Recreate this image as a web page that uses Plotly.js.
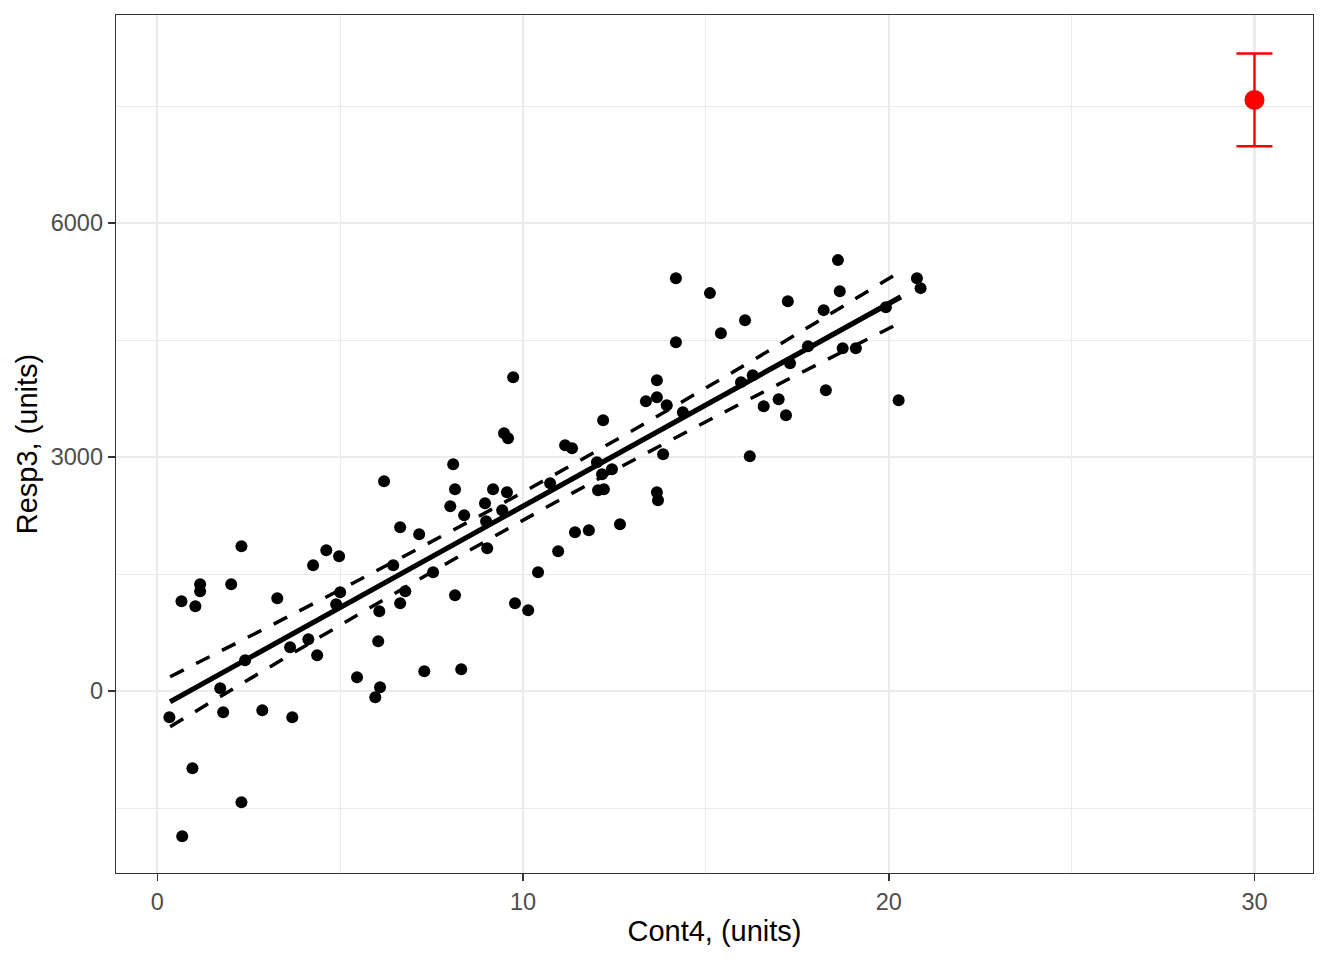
<!DOCTYPE html>
<html>
<head>
<meta charset="utf-8">
<script src="https://cdn.plot.ly/plotly-3.0.1.min.js"></script>
<style>
  body { margin: 0; background: #fff; }
  #chart { width: 1344px; height: 960px; }
</style>
</head>
<body>
<div id="chart"></div>
<script>
// scatter of Cont4 vs Resp3
var cont4 = [
  0.33, 0.66, 0.68, 0.96, 1.04, 1.17, 1.17, 1.72, 1.80, 2.02,
  2.30, 2.30, 2.40, 2.87, 3.28, 3.63, 3.69, 4.13, 4.26, 4.37,
  4.62, 4.89, 4.97, 5.00, 5.46, 5.96, 6.04, 6.07, 6.09, 6.20,
  6.45, 6.64, 6.64, 6.78, 7.16, 7.30, 7.54, 8.01, 8.09, 8.14,
  8.14, 8.31, 8.39, 8.96, 8.99, 9.02, 9.18, 9.43, 9.48, 9.56,
  9.59, 9.73, 9.78, 10.14, 10.41, 10.74, 10.96, 11.15, 11.34, 11.42,
  11.80, 12.02, 12.05, 12.16, 12.19, 12.21, 12.43, 12.65, 13.36, 13.66,
  13.66, 13.66, 13.69, 13.83, 13.93, 14.18, 14.18, 14.37, 15.11, 15.41,
  15.96, 16.07, 16.20, 16.28, 16.58, 16.99, 17.19, 17.24, 17.30, 17.79,
  18.22, 18.28, 18.61, 18.66, 18.74, 19.10, 19.92, 20.27, 20.77, 20.87
];
var resp3 = [
  -333, 1154, -1859, -987, 1090, 1372, 1282, 38, -269, 1372,
  1859, -1423, 397, -244, 1192, 564, -333, 667, 1615, 462,
  1808, 1115, 1731, 1269, 179, -77, 641, 1026, 51, 2692,
  1615, 2103, 1128, 1282, 2013, 256, 1526, 2372, 2910, 2590,
  1231, 282, 2256, 2410, 2179, 1833, 2590, 2320, 3308, 2551,
  3244, 4026, 1128, 1038, 1526, 2667, 1795, 3154, 3115, 2038,
  2064, 2936, 2577, 2782, 3474, 2590, 2846, 2141, 3718, 3987,
  3769, 2551, 2449, 3038, 3667, 5295, 4474, 3577, 5103, 4590,
  3962, 4756, 3013, 4051, 3654, 3744, 3538, 5000, 4205, 4423,
  4885, 3859, 5526, 5128, 4397, 4397, 4923, 3731, 5295, 5167
];

// fitted line and its confidence band
var fitX = [0.35, 20.33];
var fitY = [-134, 5055];
var ciX = [0.35, 5.345, 10.34, 15.335, 20.33];
var ciUpper = [186, 1385, 2640, 3980, 5383];
var ciLower = [-454, 941, 2280, 3536, 4727];

// the single red point with error bar
var refX = [30];
var refY = [7580];
var refErr = [595];

var tickFont = { family: 'Liberation Sans, Arial, sans-serif', size: 23.5, color: '#4D4D4D' };
var titleFont = { family: 'Liberation Sans, Arial, sans-serif', size: 29, color: '#000000' };

var points = {
  x: cont4,
  y: resp3,
  type: 'scatter',
  mode: 'markers',
  marker: { color: '#000000', size: 12 },
  cliponaxis: false
};

var fit = {
  x: fitX,
  y: fitY,
  type: 'scatter',
  mode: 'lines',
  line: { color: '#000000', width: 5.2 }
};

var upper = {
  x: ciX,
  y: ciUpper,
  type: 'scatter',
  mode: 'lines',
  line: { color: '#000000', width: 3.5, dash: '15px,14px', shape: 'spline' }
};

var lower = {
  x: ciX,
  y: ciLower,
  type: 'scatter',
  mode: 'lines',
  line: { color: '#000000', width: 3.5, dash: '15px,14px', shape: 'spline' }
};

var ref = {
  x: refX,
  y: refY,
  type: 'scatter',
  mode: 'markers',
  marker: { color: '#FF0000', size: 20 },
  error_y: { type: 'data', array: refErr, visible: true, color: '#FF0000', thickness: 2.4, width: 18 }
};

var layout = {
  width: 1344,
  height: 960,
  margin: { l: 116, r: 31, t: 15, b: 87 },
  paper_bgcolor: '#ffffff',
  plot_bgcolor: '#ffffff',
  showlegend: false,
  xaxis: {
    range: [-1.13, 31.6],
    tick0: 0,
    dtick: 10,
    showgrid: true,
    gridcolor: '#EBEBEB',
    gridwidth: 2.2,
    minor: { dtick: 5, tick0: 0, showgrid: true, gridcolor: '#EBEBEB', gridwidth: 1.1 },
    zeroline: false,
    showline: true,
    mirror: true,
    linecolor: '#333333',
    linewidth: 1.3,
    ticks: 'outside',
    ticklen: 7,
    tickwidth: 1.5,
    tickcolor: '#333333',
    tickfont: tickFont,
    title: { text: 'Cont4, (units)', font: titleFont, standoff: 7 }
  },
  yaxis: {
    range: [-2330, 8668],
    tick0: 0,
    dtick: 3000,
    tickformat: 'd',
    showgrid: true,
    gridcolor: '#EBEBEB',
    gridwidth: 2.2,
    minor: { dtick: 1500, tick0: 0, showgrid: true, gridcolor: '#EBEBEB', gridwidth: 1.1 },
    zeroline: false,
    showline: true,
    mirror: true,
    linecolor: '#333333',
    linewidth: 1.3,
    ticks: 'outside',
    ticklen: 7,
    tickwidth: 1.5,
    tickcolor: '#333333',
    tickfont: tickFont,
    title: { text: 'Resp3, (units)', font: titleFont, standoff: 4 }
  }
};

Plotly.newPlot('chart', [points, upper, lower, fit, ref], layout, { displayModeBar: false, staticPlot: true });
</script>
</body>
</html>
